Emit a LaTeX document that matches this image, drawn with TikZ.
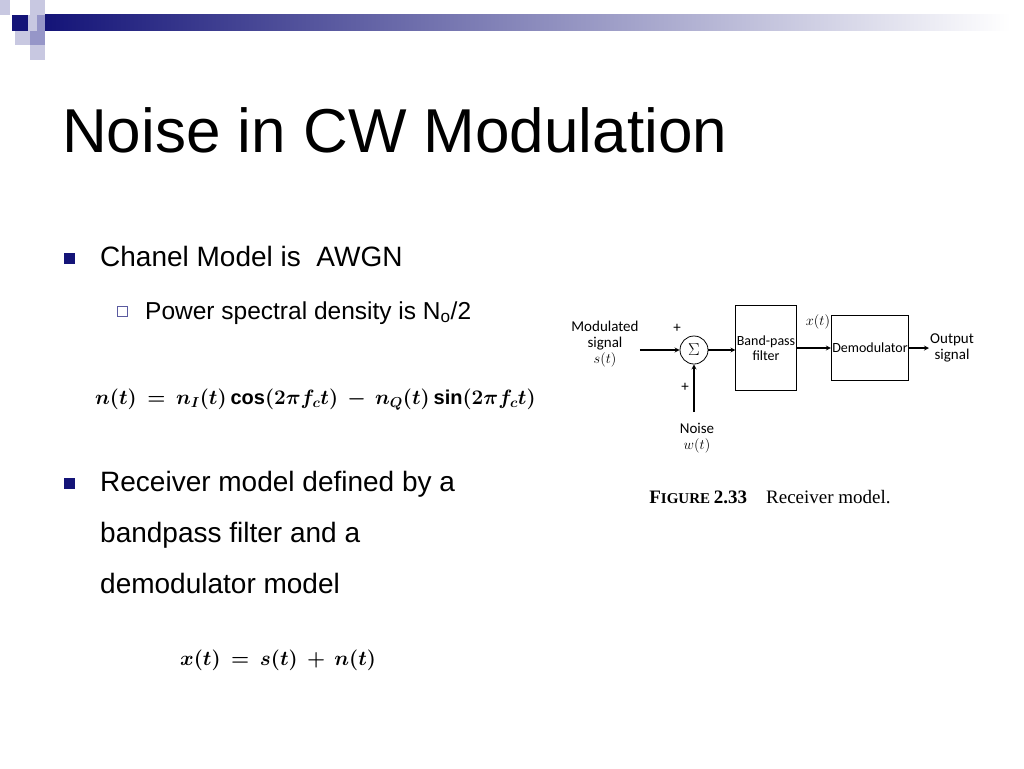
\documentclass[tikz,border=0pt]{standalone}
\usepackage{fontspec}
\setmainfont{Liberation Sans}
\newfontfamily\figfont{Carlito}
\newfontfamily\capfont{Liberation Serif}
\usetikzlibrary{positioning}
\definecolor{navy}{RGB}{20,20,120}
\definecolor{lightsq}{RGB}{200,200,225}
\definecolor{midsq}{RGB}{150,150,200}
\tikzset{
  blk/.style={draw, thick, minimum height=#1, inner sep=1pt, font=\figfont\fontsize{14}{15}\selectfont, align=center},
  lbl/.style={font=\figfont\fontsize{15}{16}\selectfont, align=center, inner sep=1pt},
  sig/.style={very thick,->,>=stealth},
  bul/.style={anchor=west, font=\fontsize{28}{30}\selectfont, inner sep=0pt},
}
\begin{document}
\begin{tikzpicture}[x=1pt,y=-1pt]
\useasboundingbox (0,0) rectangle (1024,768);
% header decoration
\shade[left color=navy, right color=white] (45,15) rectangle (1010,31);
\fill[lightsq] (0,0) rectangle (10,15);
\fill[lightsq] (30,0) rectangle (45,15);
\fill[navy] (12,15) rectangle (28,31);
\fill[lightsq] (28,15) rectangle (37,31);
\fill[midsq] (37,15) rectangle (45,31);
\fill[lightsq] (15,31) rectangle (30,45);
\fill[midsq] (30,31) rectangle (45,45);
\fill[lightsq] (30,45) rectangle (45,60);

% title and bullets
\node[anchor=base west, inner sep=0pt, font=\fontsize{62}{70}\selectfont] (title) at (62,152) {Noise in CW Modulation};
\fill[navy] (64,253) rectangle (75,264);
\node[bul, anchor=base west] (b1) at (100,266) {Chanel Model is\ \ AWGN};
\draw[navy!70] (117,306) rectangle (127,316);
\node[bul, anchor=base west, font=\fontsize{24.5}{26}\selectfont] (b2) at (145,319) {Power spectral density is N\textsubscript{o}/2};
\node[anchor=west, font=\fontsize{20}{24}\selectfont\boldmath, inner sep=0pt] (nt) at (95,400)
  {$n(t)\,=\,n_I(t)\,\mathrm{cos}(2\pi f_c t)\,-\,n_Q(t)\,\mathrm{sin}(2\pi f_c t)$};
\fill[navy] (64,478) rectangle (75,489);
\node[bul, anchor=base west] (b3) at (100,491) {Receiver model defined by a};
\node[bul, anchor=base west] (b3b) at (100,542) {bandpass filter and a};
\node[bul, anchor=base west] (b3c) at (100,593) {demodulator model};
\node[anchor=west, font=\fontsize{20.5}{24}\selectfont\boldmath, inner sep=0pt] (xt) at (180,660)
  {$x(t)\,=\,s(t)\,+\,n(t)$};

% receiver model
\node[lbl] (mod) at (605,344) {Modulated\\signal\\$s(t)$};
\node[draw, thick, circle, minimum size=28pt, inner sep=0pt, font=\LARGE] (sum) at (694,350) {$\Sigma$};
\node[blk=85pt, minimum width=58pt] (bpf) at (766,348) {Band-pass\\filter};
\node[blk=65pt, minimum width=67pt] (dem) at (870,348) {Demodulator};
\node[lbl] (out) at (952,348) {Output\\signal};
\node[lbl] (noise) at (697,438) {Noise\\$w(t)$};
\node[lbl] at (677,328) {+};
\node[lbl] at (685,387) {+};
\node[lbl] at (818,322) {$x(t)$};
\coordinate (nin) at (694,412);
\draw[sig] (mod.east |- sum) -- (sum);
\draw[sig] (nin) -- (sum);
\draw[sig] (sum) -- (bpf.west |- sum);
\draw[sig] (bpf.east |- dem) -- (dem);
\draw[sig] (dem) -- (out);
\node[inner sep=0pt, font=\capfont\fontsize{19}{20}\selectfont] (cap) at (770,497)
  {\textbf{F\fontsize{15}{16}\selectfont IGURE \fontsize{19}{20}\selectfont 2.33}\quad Receiver model.};
\end{tikzpicture}
\end{document}
